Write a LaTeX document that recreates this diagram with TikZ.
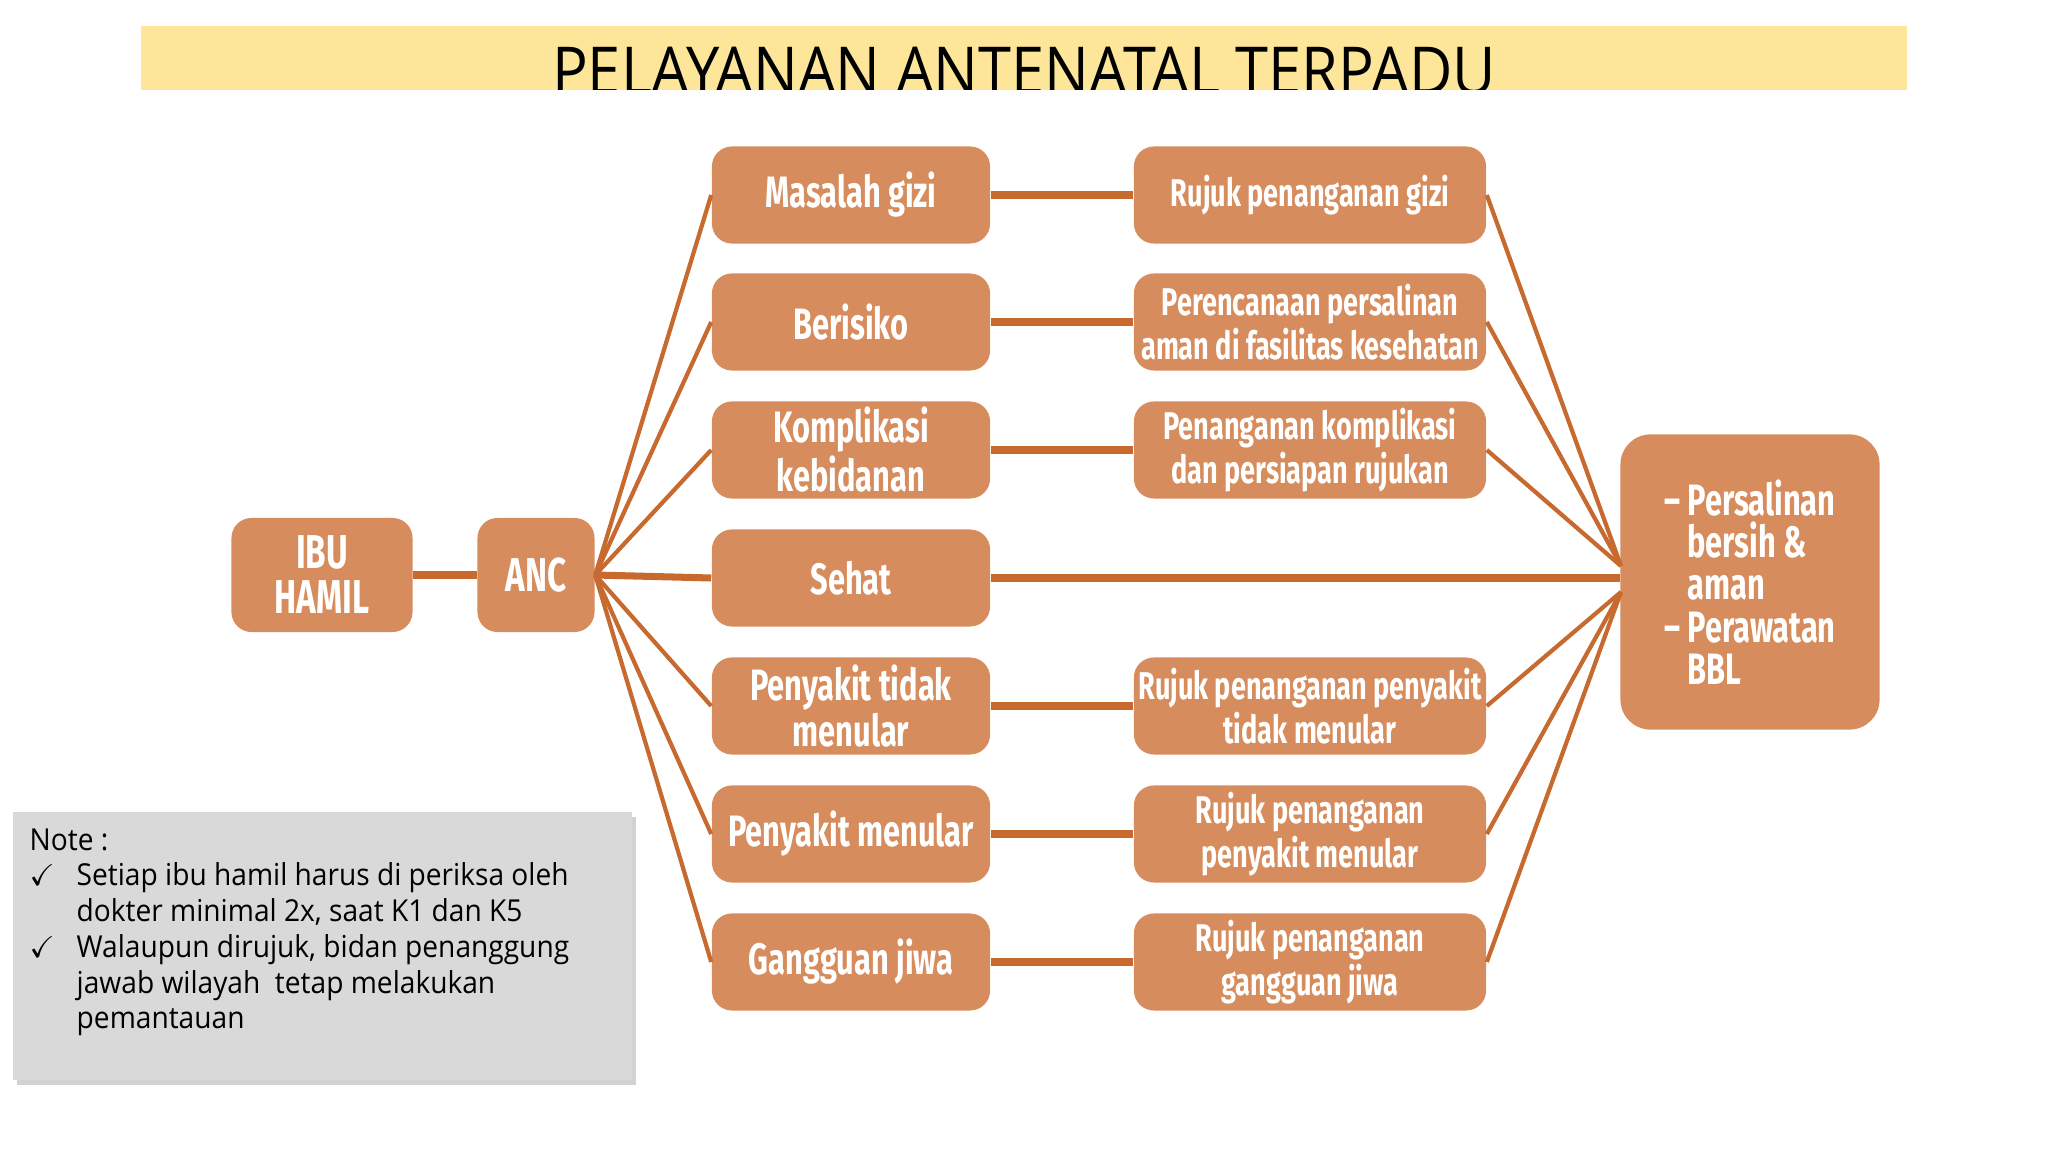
\documentclass[tikz,border=0pt]{standalone}
\usepackage{amssymb}
\usepackage{fontspec}
\setmainfont{Open Sans}
\newfontfamily\boxfont[FakeStretch=0.7]{Fira Sans}
\newfontfamily\titlefont[FakeStretch=0.9]{Open Sans}
\newfontfamily\notefont[FakeStretch=0.93]{Open Sans}
\usetikzlibrary{shadows}

\definecolor{boxfill}{RGB}{214,140,92}
\definecolor{linecol}{RGB}{199,106,48}
\definecolor{band}{RGB}{253,230,153}
\definecolor{notefill}{RGB}{217,217,217}

\newcommand{\chk}{\makebox[0.47cm][l]{$\checkmark$}}
\newcommand{\ind}{\hspace*{0.47cm}}

\begin{document}
\begin{tikzpicture}[x=0.01cm, y=-0.01cm,
    box/.style={fill=boxfill, rounded corners=0.2cm, text=white, align=center,
        inner sep=0pt, font=\boxfont\bfseries\fontsize{12.5}{11.5}\selectfont},
    lbox/.style={box, minimum width=2.78cm, minimum height=0.97cm},
    rbox/.style={box, minimum width=3.52cm, minimum height=0.97cm,
        font=\boxfont\bfseries\fontsize{11}{10.8}\selectfont},
    link/.style={draw=linecol, line width=2pt},
    fan/.style={draw=linecol, line width=1.2pt}]
    \useasboundingbox (0,0) rectangle (2048,1152);

    % judul
    \fill[band] (141,26) rectangle (1907,90);
    \begin{scope}
        \clip (141,26) rectangle (1907,90);
        \node[anchor=base, font=\titlefont\fontsize{18.8}{20}\selectfont] (title) at (1024,95) {PELAYANAN ANTENATAL TERPADU};
    \end{scope}

    \node[box, minimum width=1.81cm, minimum height=1.14cm, font=\boxfont\bfseries\fontsize{13.5}{12.8}\selectfont] (ibu) at (322,575) {IBU\\HAMIL};
    \node[box, minimum width=1.17cm, minimum height=1.14cm, font=\boxfont\bfseries\fontsize{13.5}{12.8}\selectfont] (anc) at (536,575) {ANC};

    \node[lbox] (gizi)   at (851,195) {Masalah gizi};
    \node[lbox] (risiko) at (851,322) {Berisiko};
    \node[lbox] (komp)   at (851,450) {Komplikasi\\kebidanan};
    \node[lbox] (sehat)  at (851,578) {Sehat};
    \node[lbox] (ptm)    at (851,706) {Penyakit tidak\\menular};
    \node[lbox] (pm)     at (851,834) {Penyakit menular};
    \node[lbox] (jiwa)   at (851,962) {Gangguan jiwa};

    \node[rbox] (rgizi)   at (1310,195) {Rujuk penanganan gizi};
    \node[rbox] (rrisiko) at (1310,322) {Perencanaan persalinan\\aman di fasilitas kesehatan};
    \node[rbox] (rkomp)   at (1310,450) {Penanganan komplikasi\\dan persiapan rujukan};
    \node[rbox] (rptm)    at (1310,706) {Rujuk penanganan penyakit\\tidak menular};
    \node[rbox] (rpm)     at (1310,834) {Rujuk penanganan\\penyakit menular};
    \node[rbox] (rjiwa)   at (1310,962) {Rujuk penanganan\\gangguan jiwa};

    \node[box, minimum width=2.59cm, minimum height=2.95cm, rounded corners=0.3cm, align=left,
        font=\boxfont\bfseries\fontsize{12.5}{12}\selectfont] (hasil) at (1750,582)
        {– Persalinan\\\hphantom{– }bersih \&\\\hphantom{– }aman\\– Perawatan\\\hphantom{– }BBL};

    \coordinate (hubup)   at (1621,566);
    \coordinate (hubdown) at (1621,592);

    \path
        (ibu)
            edge [link] (anc)
        (anc.east)
            edge [fan] (gizi.west)
            edge [fan] (risiko.west)
            edge [fan] (komp.west)
            edge [link] (sehat.west)
            edge [fan] (ptm.west)
            edge [fan] (pm.west)
            edge [fan] (jiwa.west)
        (gizi)   edge [link] (rgizi)
        (risiko) edge [link] (rrisiko)
        (komp)   edge [link] (rkomp)
        (ptm)    edge [link] (rptm)
        (pm)     edge [link] (rpm)
        (jiwa)   edge [link] (rjiwa)
        (sehat.east) edge [link] (sehat.east -| hasil.west)
        (rgizi.east)   edge [fan] (hubup)
        (rrisiko.east) edge [fan] (hubup)
        (rkomp.east)   edge [fan] (hubup)
        (rptm.east)    edge [fan] (hubdown)
        (rpm.east)     edge [fan] (hubdown)
        (rjiwa.east)   edge [fan] (hubdown)
        ;

    % catatan
    \node[fill=notefill, drop shadow={shadow xshift=0.04cm, shadow yshift=-0.05cm, fill=black!35},
        minimum width=6.19cm, minimum height=2.68cm, anchor=north west, inner sep=0pt] (note) at (12,811) {};
    \node[anchor=north west, align=left, inner sep=0pt, font=\notefont\fontsize{8.6}{10.15}\selectfont] (notetext) at (29,828)
        {Note :\\
         \chk Setiap ibu hamil harus di periksa oleh\\
         \ind dokter minimal 2x, saat K1 dan K5\\
         \chk Walaupun dirujuk, bidan penanggung\\
         \ind jawab wilayah\ \ tetap melakukan\\
         \ind pemantauan};
\end{tikzpicture}
\end{document}
